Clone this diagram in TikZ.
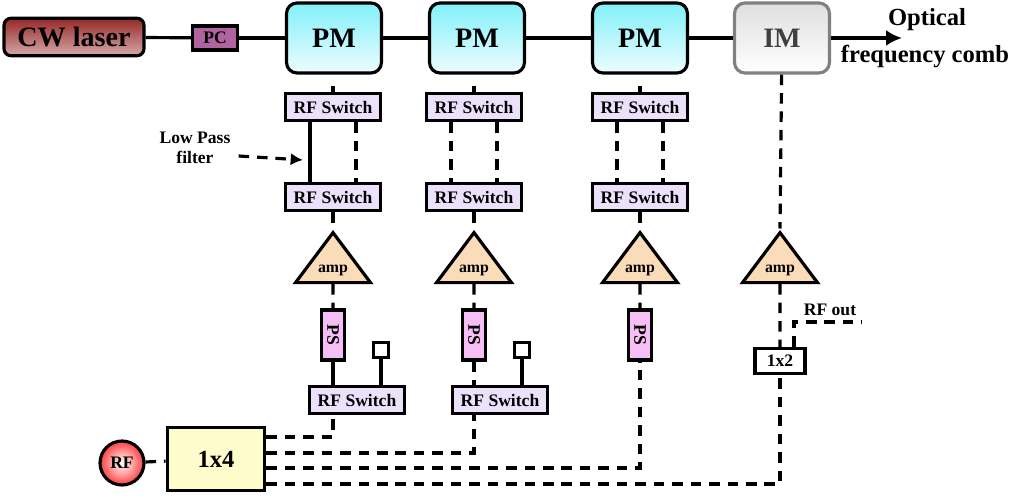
\documentclass[tikz,border=0pt]{standalone}
\usepackage{fontspec}
\setmainfont{Liberation Serif}
\usetikzlibrary{arrows.meta,shapes.geometric,positioning}
\definecolor{laserred}{RGB}{150,40,40}
\definecolor{pcpurple}{RGB}{175,100,160}
\definecolor{pmcyan}{RGB}{130,240,250}
\definecolor{swlilac}{RGB}{235,225,250}
\definecolor{ampbeige}{RGB}{250,220,185}
\definecolor{pspink}{RGB}{245,190,245}
\tikzset{
  wire/.style={line width=1.8pt},
  rfwire/.style={line width=1.8pt, dash pattern=on 6pt off 4.5pt},
  pmbox/.style={draw, line width=1.8pt, rounded corners=6pt, top color=pmcyan, bottom color=white!85!pmcyan, minimum width=1.9cm, minimum height=1.4cm, font=\bfseries\fontsize{16}{16}\selectfont},
  switch/.style={draw, line width=1.8pt, fill=swlilac, minimum width=1.9cm, minimum height=0.55cm, inner sep=1pt, font=\bfseries\fontsize{10}{10}\selectfont},
  amp/.style={draw, line width=1.8pt, fill=ampbeige, isosceles triangle, isosceles triangle stretches, shape border rotate=90, minimum height=1.0cm, minimum width=1.5cm, inner sep=0pt, font=\bfseries\fontsize{9}{9}\selectfont},
  ps/.style={draw, line width=1.8pt, fill=pspink, minimum width=0.45cm, minimum height=1.0cm, inner sep=0pt, font=\bfseries\fontsize{10}{10}\selectfont},
}
\begin{document}
\begin{tikzpicture}[x={(0.02cm,0)}, y={(0,-0.02cm)}]
  \useasboundingbox (0,0) rectangle (1025,502);
  % optical path
  \node[draw, line width=1.8pt, rounded corners=4pt, top color=laserred, bottom color=laserred!40, minimum width=2.8cm, minimum height=0.75cm, font=\bfseries\fontsize{16}{16}\selectfont] (laser) at (74,37) {CW laser};
  \node[draw, line width=1.8pt, fill=pcpurple, minimum width=0.9cm, minimum height=0.48cm, inner sep=0pt, font=\bfseries\fontsize{10}{10}\selectfont] (pc) at (215,38) {PC};
  \node[pmbox] (pm1) at (334,38) {PM};
  \node[pmbox] (pm2) at (477,38) {PM};
  \node[pmbox] (pm3) at (640,38) {PM};
  \node[pmbox, draw=gray, top color=gray!25, bottom color=white, text=black!75] (im) at (782,38) {IM};
  \coordinate (comb) at (902,38);
  \node[font=\bfseries\fontsize{14}{14}\selectfont] (optical) at (927,20) {Optical};
  \node[font=\bfseries\fontsize{14}{14}\selectfont] (freq) at (925,57) {frequency comb};
  \draw[wire] (laser) -- (pc);
  \draw[wire] (pc) -- (pm1);
  \draw[wire] (pm1) -- (pm2);
  \draw[wire] (pm2) -- (pm3);
  \draw[wire] (pm3) -- (im);
  \draw[wire, -{Latex[length=9pt,width=9pt]}] (im) -- (comb);
  % RF branches
  \foreach \n/\x in {1/333, 2/474, 3/640} {
    \node[switch] (swa\n) at (\x,107) {RF Switch};
    \node[switch] (swb\n) at (\x,197) {RF Switch};
    \draw[wire] (swa\n.north) -- ++(0,-6);
    \node[ps] (ps\n) at (\x,335) {\rotatebox{-90}{PS}};
  }
  \node[amp] (amp1) at (333,270) {amp};
  \node[amp] (amp2) at (474,270) {amp};
  \node[amp] (amp3) at (640,270) {amp};
  \node[amp] (amp4) at (780,270) {amp};
  % switch pairs
  \draw[wire] ([xshift=-0.46cm]swa1.south) -- ([xshift=-0.46cm]swb1.north);
  \draw[rfwire] ([xshift=0.46cm]swa1.south) -- ([xshift=0.46cm]swb1.north);
  \foreach \n in {2,3} {
    \draw[rfwire] ([xshift=-0.46cm]swa\n.south) -- ([xshift=-0.46cm]swb\n.north);
    \draw[rfwire] ([xshift=0.46cm]swa\n.south) -- ([xshift=0.46cm]swb\n.north);
  }
  \node[font=\bfseries\fontsize{10}{11}\selectfont, align=center] (lpf) at (195,148) {Low Pass\\filter};
  \coordinate (lpftip) at (303,160);
  \draw[rfwire, -{Latex[length=7pt,width=7pt]}] (lpf.east) ++(2,8) -- (lpftip);
  \foreach \n in {1,2,3} {
    \draw[rfwire] (swb\n) -- (amp\n.apex);
    \draw[rfwire] (amp\n) -- (ps\n);
  }
  \draw[rfwire] (im) -- (amp4.apex);
  % second switches
  \node[switch] (swc1) at (357,400) {RF Switch};
  \node[switch] (swc2) at (500,400) {RF Switch};
  \node[draw, line width=1.8pt, fill=white, minimum size=0.3cm, inner sep=0pt] (ld1) at (381,350) {};
  \node[draw, line width=1.8pt, fill=white, minimum size=0.3cm, inner sep=0pt] (ld2) at (522,350) {};
  \draw[wire] (ps1) -- (ps1 |- swc1.north);
  \draw[rfwire] (ps2) -- (ps2 |- swc2.north);
  \draw[wire] (ld1) -- (ld1 |- swc1.north);
  \draw[wire] (ld2) -- (ld2 |- swc2.north);
  % 1x2 splitter
  \node[draw, line width=1.8pt, fill=white, minimum width=1.0cm, minimum height=0.5cm, inner sep=0pt, font=\bfseries\fontsize{10}{10}\selectfont] (split) at (780,361) {1x2};
  \draw[rfwire] (amp4) -- (amp4 |- split.north);
  \node[font=\bfseries\fontsize{10}{10}\selectfont] (rfout) at (830,310) {RF out};
  \coordinate (rfturn) at (794,322);
  \draw[rfwire] (split.north -| rfturn) -- (rfturn) -- (rfturn -| rfout.east);
  % RF source
  \node[draw, line width=1.8pt, circle, minimum size=0.88cm, inner sep=0pt, inner color=white, outer color=red!75, font=\bfseries\fontsize{10}{10}\selectfont] (rf) at (122,463) {RF};
  \node[draw, line width=1.8pt, fill=yellow!20, minimum width=1.95cm, minimum height=1.26cm, font=\bfseries\fontsize{14}{14}\selectfont] (split4) at (216,459) {1x4};
  \draw[rfwire] (rf) -- (split4);
  \coordinate (c1) at (333,437);
  \coordinate (c2) at (474,453);
  \coordinate (c3) at (640,468);
  \coordinate (c4) at (780,484);
  \draw[rfwire] (split4.east |- c1) -- (c1) -- (swc1.south -| c1);
  \draw[rfwire] (split4.east |- c2) -- (c2) -- (swc2.south -| c2);
  \draw[rfwire] (split4.east |- c3) -- (c3) -- (ps3);
  \draw[rfwire] (split4.east |- c4) -- (c4) -- (split);
\end{tikzpicture}
\end{document}
